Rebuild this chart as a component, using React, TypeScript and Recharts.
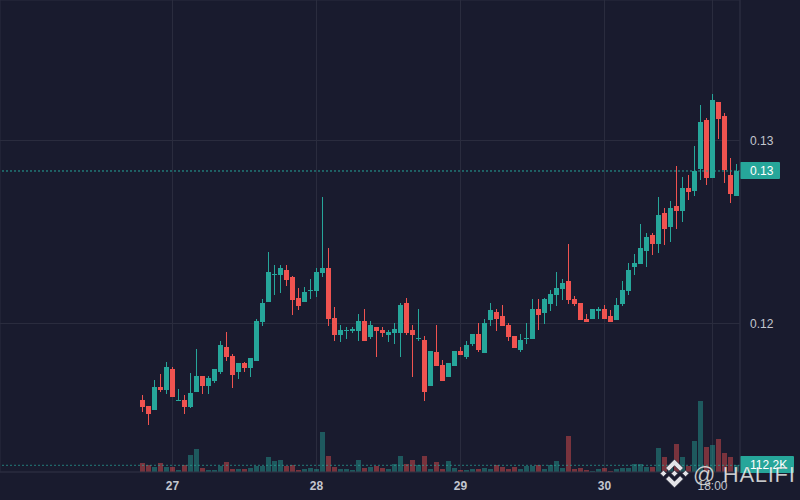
import React from "react";
import { ComposedChart, Bar, XAxis, YAxis, CartesianGrid, ReferenceLine } from "recharts";

// hourly candles, 26th 19:00 -> 30th 22:00
const times = [
  "26 19:00", "26 20:00", "26 21:00", "26 22:00", "26 23:00",
  "27 00:00", "27 01:00", "27 02:00", "27 03:00", "27 04:00", "27 05:00", "27 06:00", "27 07:00", "27 08:00", "27 09:00", "27 10:00", "27 11:00", "27 12:00", "27 13:00", "27 14:00", "27 15:00", "27 16:00", "27 17:00", "27 18:00", "27 19:00", "27 20:00", "27 21:00", "27 22:00", "27 23:00",
  "28 00:00", "28 01:00", "28 02:00", "28 03:00", "28 04:00", "28 05:00", "28 06:00", "28 07:00", "28 08:00", "28 09:00", "28 10:00", "28 11:00", "28 12:00", "28 13:00", "28 14:00", "28 15:00", "28 16:00", "28 17:00", "28 18:00", "28 19:00", "28 20:00", "28 21:00", "28 22:00", "28 23:00",
  "29 00:00", "29 01:00", "29 02:00", "29 03:00", "29 04:00", "29 05:00", "29 06:00", "29 07:00", "29 08:00", "29 09:00", "29 10:00", "29 11:00", "29 12:00", "29 13:00", "29 14:00", "29 15:00", "29 16:00", "29 17:00", "29 18:00", "29 19:00", "29 20:00", "29 21:00", "29 22:00", "29 23:00",
  "30 00:00", "30 01:00", "30 02:00", "30 03:00", "30 04:00", "30 05:00", "30 06:00", "30 07:00", "30 08:00", "30 09:00", "30 10:00", "30 11:00", "30 12:00", "30 13:00", "30 14:00", "30 15:00", "30 16:00", "30 17:00", "30 18:00", "30 19:00", "30 20:00", "30 21:00", "30 22:00",
];

const opens = [
  0.117909, 0.117745, 0.117636, 0.118264, 0.118182, 0.118756, 0.117882, 0.117909, 0.117718, 0.118128,
  0.118565, 0.118292, 0.118428, 0.118674, 0.119357, 0.119111, 0.118674, 0.11892, 0.118784, 0.118975,
  0.12004, 0.120587, 0.121325, 0.121325, 0.121461, 0.12127, 0.120696, 0.120587, 0.120887, 0.120887,
  0.121379, 0.121516, 0.12015, 0.119685, 0.119795, 0.119795, 0.119795, 0.120069, 0.119631, 0.119905,
  0.119823, 0.119686, 0.119741, 0.119741, 0.12056, 0.119823, 0.119577, 0.11955, 0.118293, 0.119222,
  0.118866, 0.118539, 0.118839, 0.119249, 0.119085, 0.11944, 0.119713, 0.119194, 0.120096, 0.120315,
  0.120205, 0.119959, 0.119659, 0.119276, 0.119577, 0.119577, 0.120397, 0.120287, 0.120533, 0.120779,
  0.120943, 0.121161, 0.12067, 0.12056, 0.120123, 0.120123, 0.120342, 0.120396, 0.120205, 0.120096,
  0.120533, 0.120888, 0.121544, 0.121626, 0.121981, 0.122418, 0.122172, 0.123019, 0.122637, 0.123211,
  0.123074, 0.123702, 0.12362, 0.124222, 0.12556, 0.123976, 0.126052, 0.12567, 0.124058, 0.123484,
];
const highs = [
  0.118046, 0.117745, 0.118456, 0.11862, 0.118948, 0.118811, 0.11821, 0.118046, 0.118647, 0.119303,
  0.118565, 0.118565, 0.118756, 0.119521, 0.119767, 0.119166, 0.11892, 0.118948, 0.119057, 0.120122,
  0.120669, 0.121953, 0.121598, 0.121598, 0.121598, 0.121297, 0.120969, 0.120997, 0.121215, 0.121516,
  0.123456, 0.122062, 0.12045, 0.119958, 0.119904, 0.119905, 0.12026, 0.120397, 0.120069, 0.119905,
  0.119905, 0.119823, 0.120014, 0.12056, 0.120697, 0.119959, 0.120397, 0.119659, 0.119249, 0.119959,
  0.119003, 0.118921, 0.119249, 0.119358, 0.119522, 0.119713, 0.120014, 0.120123, 0.12056, 0.120397,
  0.120506, 0.120014, 0.119659, 0.119713, 0.120014, 0.12067, 0.12067, 0.120697, 0.120916, 0.121407,
  0.121216, 0.122172, 0.120752, 0.12056, 0.12026, 0.120396, 0.120451, 0.120506, 0.120369, 0.120697,
  0.121161, 0.121653, 0.121899, 0.122719, 0.122473, 0.122473, 0.123456, 0.123156, 0.123347, 0.124303,
  0.124003, 0.124058, 0.12485, 0.12597, 0.125615, 0.126271, 0.126052, 0.125752, 0.124522, 0.124358,
];
const lows = [
  0.117581, 0.117226, 0.117636, 0.118128, 0.118073, 0.117991, 0.117882, 0.117527, 0.117691, 0.118128,
  0.118073, 0.118073, 0.118374, 0.11862, 0.118975, 0.118237, 0.118483, 0.118674, 0.118538, 0.118975,
  0.119931, 0.120587, 0.120778, 0.120833, 0.121024, 0.120232, 0.120368, 0.120587, 0.120669, 0.120723,
  0.12127, 0.119931, 0.119521, 0.119494, 0.119576, 0.119741, 0.119522, 0.119522, 0.119577, 0.119085,
  0.119631, 0.119495, 0.11944, 0.119085, 0.119686, 0.118539, 0.119522, 0.117883, 0.118293, 0.118839,
  0.118429, 0.118539, 0.118839, 0.11914, 0.11903, 0.119386, 0.119222, 0.119194, 0.119932, 0.119795,
  0.119932, 0.119522, 0.119331, 0.119222, 0.11944, 0.119577, 0.119823, 0.119987, 0.120342, 0.120478,
  0.120642, 0.120533, 0.120478, 0.120096, 0.120041, 0.120123, 0.120123, 0.120123, 0.120041, 0.120096,
  0.120478, 0.120779, 0.121325, 0.121626, 0.121544, 0.121872, 0.121926, 0.122145, 0.122227, 0.122582,
  0.122773, 0.123375, 0.123484, 0.123921, 0.123784, 0.123976, 0.125041, 0.123839, 0.123293, 0.123484,
];
const closes = [
  0.117718, 0.117527, 0.118264, 0.118182, 0.118811, 0.117991, 0.117909, 0.117718, 0.118101, 0.118565,
  0.118292, 0.11851, 0.118756, 0.119412, 0.119084, 0.118592, 0.11892, 0.118784, 0.119057, 0.120068,
  0.12056, 0.121407, 0.121352, 0.121516, 0.121188, 0.120642, 0.120478, 0.12086, 0.120915, 0.121407,
  0.121516, 0.120122, 0.119685, 0.119822, 0.119822, 0.11985, 0.120069, 0.119522, 0.119959, 0.119795,
  0.119741, 0.119768, 0.11985, 0.120506, 0.119741, 0.119686, 0.119604, 0.118129, 0.119249, 0.118839,
  0.118429, 0.118921, 0.119249, 0.11914, 0.119413, 0.119713, 0.119276, 0.120014, 0.120369, 0.120123,
  0.119932, 0.119631, 0.119331, 0.11955, 0.119604, 0.120397, 0.120233, 0.12067, 0.120806, 0.12097,
  0.121107, 0.120642, 0.120533, 0.120096, 0.120041, 0.120396, 0.120396, 0.120123, 0.120041, 0.120506,
  0.120915, 0.121462, 0.121653, 0.122063, 0.122364, 0.122172, 0.122965, 0.122582, 0.123156, 0.123074,
  0.123702, 0.123593, 0.124167, 0.125506, 0.123976, 0.126107, 0.125588, 0.124194, 0.123538, 0.124167,
];
// volume in thousands
const volumes = [
  151, 117, 84, 151, 84, 84, 33, 117, 285, 385,
  67, 33, 33, 100, 167, 50, 50, 50, 67, 100,
  100, 251, 184, 201, 100, 117, 33, 50, 67, 50,
  670, 268, 84, 50, 50, 33, 201, 67, 84, 100,
  67, 50, 134, 268, 134, 201, 117, 268, 50, 167,
  50, 184, 67, 33, 33, 50, 50, 67, 50, 117,
  84, 50, 84, 50, 100, 100, 117, 50, 117, 184,
  67, 603, 50, 67, 33, 17, 50, 67, 17, 50,
  67, 67, 134, 134, 84, 84, 402, 251, 84, 469,
  251, 100, 519, 1189, 419, 452, 553, 318, 251, 112.2,
];

const priceTicks = [0.12, 0.125];
const timeTicks = ["27 00:00", "28 00:00", "29 00:00", "30 00:00", "30 18:00"];

const UP = "#26a69a";
const DOWN = "#ef5350";
const BG = "#191b2e";
const GRID = "#2a2c3e";
const TEXT = "#c3c6cf";
const FONT = "'Liberation Sans', Arial, sans-serif";

const data = times.map((time, i) => ({
  time,
  open: opens[i],
  high: highs[i],
  low: lows[i],
  close: closes[i],
  volume: volumes[i],
}));

const lastClose = closes[closes.length - 1];
const lastVolume = volumes[volumes.length - 1];

// the axis leaves bars on x.5, drop them onto whole pixels
const Candle = (props: any) => {
  const { x, y, height, payload } = props;
  const { open, high, low, close } = payload;
  const toY = (v: number) => Math.round(y + ((high - v) / (high - low)) * height);
  const color = close >= open ? UP : DOWN;
  const left = Math.floor(x);
  const top = toY(Math.max(open, close));
  const bottom = toY(Math.min(open, close));
  return (
    <g>
      <rect x={left + 2} y={toY(high)} width={1} height={toY(low) - toY(high)} fill={color} />
      <rect x={left} y={top} width={5} height={Math.max(bottom - top, 1)} fill={color} />
    </g>
  );
};

const VolumeBar = (props: any) => {
  const { x, y, height, payload } = props;
  const top = Math.round(y);
  return (
    <rect
      x={Math.floor(x)}
      y={top}
      width={5}
      height={Math.round(y + height) - top}
      fill={payload.close >= payload.open ? UP : DOWN}
      fillOpacity={0.45}
    />
  );
};

const TimeTick = (props: any) => {
  const { x, y, payload } = props;
  const [day, clock] = payload.value.split(" ");
  const isDay = clock === "00:00";
  return (
    <text x={x} y={y + 10} textAnchor="middle" fontFamily={FONT} fontSize={12} fontWeight={isDay ? 700 : 400} fill={TEXT}>
      {isDay ? day : clock}
    </text>
  );
};

const Tag = (props: any) => {
  const { viewBox, text, tagWidth } = props;
  const right = viewBox.x + viewBox.width;
  const mid = Math.round(viewBox.y);
  return (
    <g>
      <rect x={right} y={mid - 9} width={tagWidth} height={17} rx={1} fill={UP} />
      <text x={right + 10} y={mid + 4} fontFamily={FONT} fontSize={12} fill="#ffffff">
        {text}
      </text>
    </g>
  );
};

const Watermark = () => (
  <svg width={800} height={500} style={{ position: "absolute", left: 0, top: 0, pointerEvents: "none" }}>
    <g transform="translate(660 459) scale(0.23)" fill="#e4e4e8" stroke="#2a2c3a" strokeWidth={3}>
      <path d="M38.73 53.2 63 28.93l24.28 24.28 14.12-14.12L63 .69 24.61 39.08z" />
      <path d="M.69 63l14.12-14.12L28.93 63 14.81 77.12z" />
      <path d="M38.73 72.8 63 97.07l24.28-24.28 14.13 14.11L63 125.31 24.6 86.92z" />
      <path d="M97.07 63l14.12-14.12L125.31 63l-14.12 14.12z" />
      <path d="M77.33 63 63 48.67 48.67 63 63 77.34z" />
    </g>
    <text x={693} y={482} fontFamily="'Liberation Sans', sans-serif" fontSize={22} fill="#ffffff" fillOpacity={0.82} stroke="#000000" strokeOpacity={0.25} strokeWidth={0.5} letterSpacing={0.7}>
      @ HALIFI
    </text>
  </svg>
);

export default function App() {
  return (
    <div style={{ position: "absolute", left: 0, top: 0, width: 800, height: 500, background: BG, overflow: "hidden" }}>
      <ComposedChart width={800} height={500} data={data} margin={{ top: 0, right: 0, bottom: 0, left: 0 }}>
        <CartesianGrid stroke={GRID} />
        <XAxis
          dataKey="time"
          ticks={timeTicks}
          interval={0}
          height={28}
          padding={{ left: 139.5, right: 0.5 }}
          stroke={GRID}
          tickLine={false}
          tick={<TimeTick />}
        />
        <XAxis xAxisId="volX" dataKey="time" hide padding={{ left: 139.5, right: 0.5 }} />
        <YAxis
          orientation="right"
          width={60}
          domain={[0.115943, 0.128839]}
          allowDataOverflow
          ticks={priceTicks}
          stroke={GRID}
          tickLine={false}
          tickFormatter={(v: number) => v.toFixed(2)}
          tick={{ fill: TEXT, fontSize: 12, fontFamily: FONT, dx: 2 }}
        />
        <YAxis yAxisId="vol" orientation="right" hide domain={[0, 7906]} allowDataOverflow />
        <Bar xAxisId="volX" yAxisId="vol" dataKey="volume" barSize={5} shape={<VolumeBar />} isAnimationActive={false} />
        <Bar dataKey={(d: any) => [d.low, d.high]} barSize={5} shape={<Candle />} isAnimationActive={false} />
        <ReferenceLine y={lastClose} stroke={UP} strokeDasharray="2 2" label={<Tag text="0.13" tagWidth={40} />} />
        <ReferenceLine xAxisId="volX" yAxisId="vol" y={lastVolume} stroke={UP} strokeDasharray="2 2" strokeOpacity={0.7} label={<Tag text={`${lastVolume}K`} tagWidth={54} />} />
      </ComposedChart>
      <Watermark />
    </div>
  );
}
